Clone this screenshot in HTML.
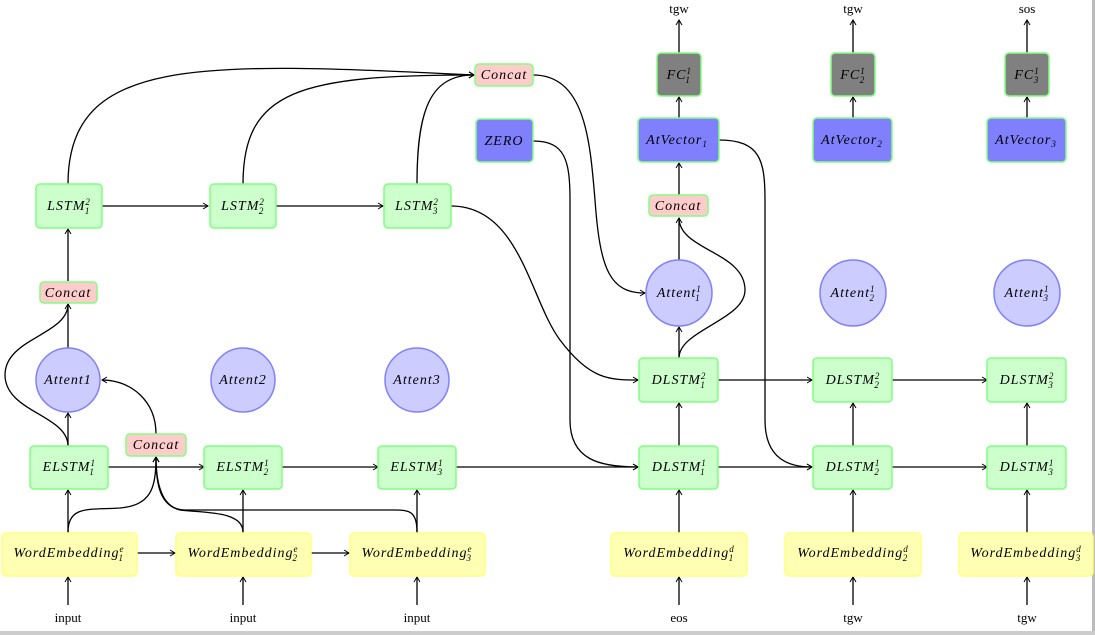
<!DOCTYPE html>
<html><head><meta charset="utf-8"><style>
html,body{margin:0;padding:0;background:#fff;}
svg{display:block;}
text{font-family:"Liberation Serif",serif;font-size:13px;}
.m{font-style:italic;font-size:14px;letter-spacing:1px;}
</style></head><body>
<svg width="1095" height="635" viewBox="0 0 1095 635" xmlns="http://www.w3.org/2000/svg">
<defs><marker id="a" markerWidth="8" markerHeight="8" refX="6" refY="4" orient="auto" markerUnits="userSpaceOnUse"><path d="M1,1 L6,4 L1,7" fill="none" stroke="#000" stroke-width="1"/></marker></defs>
<rect x="1092" y="0" width="3" height="635" fill="#bbb"/>
<rect x="0" y="631" width="1095" height="4" fill="#ccc"/>
<g stroke="#000" stroke-width="1.3" fill="none" marker-end="url(#a)">
<line x1="68" y1="605" x2="68" y2="577"/><line x1="243" y1="605" x2="243" y2="577"/><line x1="417" y1="605" x2="417" y2="577"/>
<line x1="679" y1="605" x2="679" y2="577"/><line x1="853" y1="605" x2="853" y2="577"/><line x1="1027" y1="605" x2="1027" y2="577"/>
<line x1="137" y1="553" x2="175" y2="553"/><line x1="311" y1="553" x2="349" y2="553"/>
<line x1="68" y1="533" x2="68" y2="490"/><line x1="243" y1="533" x2="243" y2="490"/><line x1="417" y1="533" x2="417" y2="490"/>
<line x1="679" y1="533" x2="679" y2="490"/><line x1="853" y1="533" x2="853" y2="490"/><line x1="1027" y1="533" x2="1027" y2="490"/>
<line x1="108" y1="467" x2="204" y2="467"/><line x1="282" y1="467" x2="378" y2="467"/><line x1="456" y1="467" x2="638" y2="467"/>
<line x1="718" y1="467" x2="812" y2="467"/><line x1="892" y1="467" x2="987" y2="467"/>
<line x1="679" y1="446" x2="679" y2="403"/><line x1="853" y1="446" x2="853" y2="403"/><line x1="1027" y1="446" x2="1027" y2="403"/>
<line x1="718" y1="380" x2="812" y2="380"/><line x1="892" y1="380" x2="987" y2="380"/>
<line x1="68" y1="446" x2="68" y2="413"/>
<path d="M68,446 C68,415 5,412 5,375 C5,338 68,335 68,304"/>
<path d="M68,532 C68,505 90,510 120,508 C150,505 156,490 156,457"/>
<path d="M243,532 C243,510 200,513 180,510 C160,505 156,485 156,457"/>
<path d="M417,532 C417,512 410,510 395,510 L185,510 C165,510 156,490 156,457"/>
<path d="M156,434 C156,400 130,380 102,380"/>
<line x1="68" y1="281" x2="68" y2="229"/>
<line x1="102" y1="206" x2="208" y2="206"/><line x1="276" y1="206" x2="383" y2="206"/>
<path d="M68,184 C68,55 200,62 474,75"/>
<path d="M243,184 C243,90 300,75 474,75"/>
<path d="M417,184 C417,110 430,75 474,75"/>
<path d="M533,75 C585,75 590,140 595,200 C600,270 610,293 645,293"/>
<path d="M533,141 C565,141 570,160 570,200 L570,420 C570,460 600,467 638,467"/>
<path d="M451,206 C520,206 530,300 560,340 C590,380 610,380 638,380"/>
<path d="M719,140 C760,140 765,160 765,200 L765,420 C765,460 790,467 812,467"/>
<line x1="679" y1="358" x2="679" y2="327"/>
<path d="M679,358 C679,330 745,320 745,290 C745,252 679,250 679,218"/>
<line x1="679" y1="195" x2="679" y2="163"/>
<line x1="679" y1="118" x2="679" y2="97"/><line x1="853" y1="118" x2="853" y2="97"/><line x1="1027" y1="118" x2="1027" y2="97"/>
<line x1="679" y1="53" x2="679" y2="20"/><line x1="853" y1="53" x2="853" y2="20"/><line x1="1027" y1="53" x2="1027" y2="20"/>
</g>
<g stroke="#000" stroke-width="1.3"><line x1="68" y1="348" x2="68" y2="304"/><line x1="679" y1="260" x2="679" y2="218"/></g>
<g fill="#ffffb3" stroke="#ffff80" stroke-width="1.5">
<rect x="2" y="533" width="135" height="43" rx="4"/><rect x="176" y="533" width="135" height="43" rx="4"/><rect x="350" y="533" width="135" height="43" rx="4"/>
<rect x="611" y="533" width="136" height="43" rx="4"/><rect x="785" y="533" width="136" height="43" rx="4"/><rect x="959" y="533" width="134" height="43" rx="4"/>
</g>
<g fill="#ccffcc" stroke="#80ff80" stroke-width="1.5">
<rect x="30" y="446" width="78" height="43" rx="4"/><rect x="204" y="446" width="78" height="43" rx="4"/><rect x="378" y="446" width="78" height="43" rx="4"/>
<rect x="639" y="446" width="79" height="43" rx="4"/><rect x="813" y="446" width="79" height="43" rx="4"/><rect x="987" y="446" width="79" height="43" rx="4"/>
<rect x="639" y="358" width="79" height="44" rx="4"/><rect x="813" y="358" width="79" height="44" rx="4"/><rect x="987" y="358" width="79" height="44" rx="4"/>
<rect x="36" y="184" width="66" height="44" rx="4"/><rect x="210" y="184" width="66" height="44" rx="4"/><rect x="384" y="184" width="67" height="44" rx="4"/>
</g>
<g fill="#ffcccc" stroke="#80ff80" stroke-width="1.5">
<rect x="40" y="282" width="57" height="21" rx="4"/><rect x="126" y="434" width="60" height="22" rx="4"/>
<rect x="475" y="64" width="58" height="22" rx="4"/><rect x="649" y="195" width="59" height="21" rx="4"/>
</g>
<g fill="#8080ff" stroke="#80ff80" stroke-width="1.5">
<rect x="476" y="119" width="57" height="43" rx="4"/>
<rect x="638" y="118" width="81" height="44" rx="4"/><rect x="813" y="118" width="79" height="44" rx="4"/><rect x="987" y="118" width="79" height="44" rx="4"/>
</g>
<g fill="#808080" stroke="#80ff80" stroke-width="1.5">
<rect x="657" y="53" width="44" height="43" rx="4"/><rect x="831" y="53" width="44" height="43" rx="4"/><rect x="1005" y="53" width="44" height="43" rx="4"/>
</g>
<g fill="#ccccff" stroke="#8080ff" stroke-width="1.5">
<circle cx="68" cy="380" r="32"/><circle cx="243" cy="380" r="32"/><circle cx="417" cy="380" r="32"/>
<circle cx="679" cy="293" r="33"/><circle cx="853" cy="293" r="33"/><circle cx="1027" cy="293" r="33"/>
</g>
<g text-anchor="middle">
<text x="68" y="622">input</text><text x="243" y="622">input</text><text x="417" y="622">input</text>
<text x="679" y="622">eos</text><text x="853" y="622">tgw</text><text x="1027" y="622">tgw</text>
<text x="679" y="13">tgw</text><text x="853" y="13">tgw</text><text x="1027" y="13">sos</text>
<text class="m" x="69" y="557">WordEmbedding<tspan font-size="9" dy="-5">e</tspan><tspan font-size="9" dx="-6" dy="9">1</tspan></text>
<text class="m" x="243" y="557">WordEmbedding<tspan font-size="9" dy="-5">e</tspan><tspan font-size="9" dx="-6" dy="9">2</tspan></text>
<text class="m" x="417" y="557">WordEmbedding<tspan font-size="9" dy="-5">e</tspan><tspan font-size="9" dx="-6" dy="9">3</tspan></text>
<text class="m" x="679" y="557">WordEmbedding<tspan font-size="9" dy="-5">d</tspan><tspan font-size="9" dx="-6" dy="9">1</tspan></text>
<text class="m" x="853" y="557">WordEmbedding<tspan font-size="9" dy="-5">d</tspan><tspan font-size="9" dx="-6" dy="9">2</tspan></text>
<text class="m" x="1026" y="557">WordEmbedding<tspan font-size="9" dy="-5">d</tspan><tspan font-size="9" dx="-6" dy="9">3</tspan></text>
<text class="m" x="69" y="471">ELSTM<tspan font-size="9" dy="-5">1</tspan><tspan font-size="9" dx="-6" dy="9">1</tspan></text>
<text class="m" x="243" y="471">ELSTM<tspan font-size="9" dy="-5">1</tspan><tspan font-size="9" dx="-6" dy="9">2</tspan></text>
<text class="m" x="417" y="471">ELSTM<tspan font-size="9" dy="-5">1</tspan><tspan font-size="9" dx="-6" dy="9">3</tspan></text>
<text class="m" x="679" y="471">DLSTM<tspan font-size="9" dy="-5">1</tspan><tspan font-size="9" dx="-6" dy="9">1</tspan></text>
<text class="m" x="853" y="471">DLSTM<tspan font-size="9" dy="-5">1</tspan><tspan font-size="9" dx="-6" dy="9">2</tspan></text>
<text class="m" x="1027" y="471">DLSTM<tspan font-size="9" dy="-5">1</tspan><tspan font-size="9" dx="-6" dy="9">3</tspan></text>
<text class="m" x="679" y="384">DLSTM<tspan font-size="9" dy="-5">2</tspan><tspan font-size="9" dx="-6" dy="9">1</tspan></text>
<text class="m" x="853" y="384">DLSTM<tspan font-size="9" dy="-5">2</tspan><tspan font-size="9" dx="-6" dy="9">2</tspan></text>
<text class="m" x="1027" y="384">DLSTM<tspan font-size="9" dy="-5">2</tspan><tspan font-size="9" dx="-6" dy="9">3</tspan></text>
<text class="m" x="69" y="210">LSTM<tspan font-size="9" dy="-5">2</tspan><tspan font-size="9" dx="-6" dy="9">1</tspan></text>
<text class="m" x="243" y="210">LSTM<tspan font-size="9" dy="-5">2</tspan><tspan font-size="9" dx="-6" dy="9">2</tspan></text>
<text class="m" x="417" y="210">LSTM<tspan font-size="9" dy="-5">2</tspan><tspan font-size="9" dx="-6" dy="9">3</tspan></text>
<text class="m" x="68" y="297">Concat</text><text class="m" x="156" y="449">Concat</text>
<text class="m" x="504" y="79">Concat</text><text class="m" x="678" y="210">Concat</text>
<text class="m" x="504" y="145">ZERO</text>
<text class="m" x="677" y="144">AtVector<tspan font-size="9" dy="3">1</tspan></text>
<text class="m" x="852" y="144">AtVector<tspan font-size="9" dy="3">2</tspan></text>
<text class="m" x="1026" y="144">AtVector<tspan font-size="9" dy="3">3</tspan></text>
<text class="m" x="679" y="79">FC<tspan font-size="9" dy="-5">1</tspan><tspan font-size="9" dx="-6" dy="9">1</tspan></text>
<text class="m" x="853" y="79">FC<tspan font-size="9" dy="-5">1</tspan><tspan font-size="9" dx="-6" dy="9">2</tspan></text>
<text class="m" x="1027" y="79">FC<tspan font-size="9" dy="-5">1</tspan><tspan font-size="9" dx="-6" dy="9">3</tspan></text>
<text class="m" x="68" y="384">Attent1</text><text class="m" x="243" y="384">Attent2</text><text class="m" x="417" y="384">Attent3</text>
<text class="m" x="679" y="297">Attent<tspan font-size="9" dy="-5">1</tspan><tspan font-size="9" dx="-6" dy="9">1</tspan></text>
<text class="m" x="853" y="297">Attent<tspan font-size="9" dy="-5">1</tspan><tspan font-size="9" dx="-6" dy="9">2</tspan></text>
<text class="m" x="1027" y="297">Attent<tspan font-size="9" dy="-5">1</tspan><tspan font-size="9" dx="-6" dy="9">3</tspan></text>
</g>
</svg>
</body></html>
